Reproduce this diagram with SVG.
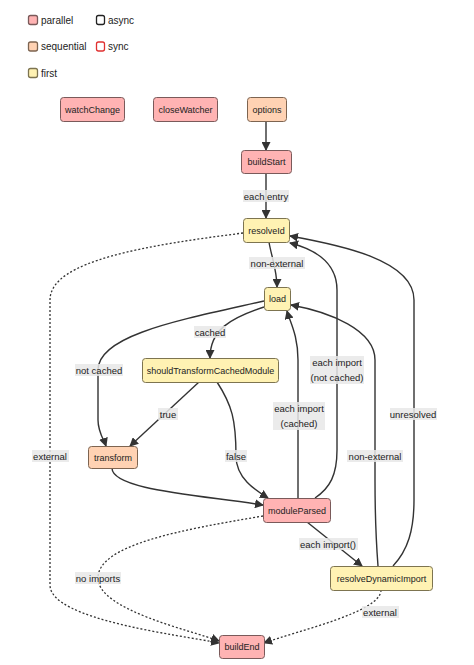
<svg xmlns="http://www.w3.org/2000/svg" width="474" height="665" viewBox="0 0 474 665">
<style>
text{font-family:"Liberation Sans",Arial,sans-serif;font-size:9px;fill:#222;}
.c{text-anchor:middle;dominant-baseline:central;}
.l{font-size:9.5px;}
.g{font-size:10px;dominant-baseline:central;}
.par{fill:#ffb3b3;stroke:#7a5a5a;stroke-width:1;}
.seq{fill:#ffd2b3;stroke:#7d6450;stroke-width:1;}
.fst{fill:#fff2b3;stroke:#7d7450;stroke-width:1;}
.e{fill:none;stroke:#333;stroke-width:1.4;}
.d{fill:none;stroke:#333;stroke-width:1.3;stroke-dasharray:2,2;}
.lb{fill:#e8e8e8;opacity:0.85;}
.lg{stroke-width:1.3;}
</style>
<defs>
<marker id="ah" markerWidth="9" markerHeight="9" refX="8" refY="4.5" orient="auto" markerUnits="userSpaceOnUse">
<path d="M0,0 L9,4.5 L0,9 z" fill="#333"/>
</marker>
</defs>
<g id="legend">
<rect x="28.5" y="15.5" width="9" height="9" rx="2" class="par lg"/><text class="g" x="41" y="20">parallel</text>
<rect x="96.5" y="15.5" width="8" height="9" rx="2" fill="#fff" stroke="#222" class="lg"/><text class="g" x="108" y="20">async</text>
<rect x="28.5" y="42" width="9" height="9" rx="2" class="seq lg"/><text class="g" x="41" y="46.5">sequential</text>
<rect x="96.5" y="42" width="8" height="9" rx="2" fill="#fff" stroke="#e03030" class="lg"/><text class="g" x="108" y="46.5">sync</text>
<rect x="28.5" y="68.5" width="9" height="9" rx="2" class="fst lg"/><text class="g" x="41" y="73">first</text>
</g>
<g id="connectors">
<path class="e" d="M266,121 L266,150" marker-end="url(#ah)"/>
<path class="e" d="M266,173 L266,218" marker-end="url(#ah)"/>
<path class="e" d="M269,242 C271,255 277,270 277,287" marker-end="url(#ah)"/>
<path class="e" d="M264,307 C230,318 210,330 210,358" marker-end="url(#ah)"/>
<path class="e" d="M264,301 C180,320 98,335 98,370 L98,420 C98,432 104,440 106,446" marker-end="url(#ah)"/>
<path class="e" d="M199,382 L130,446" marker-end="url(#ah)"/>
<path class="e" d="M217,382 C232,405 236,420 236,456 C236,478 255,490 268,498" marker-end="url(#ah)"/>
<path class="e" d="M112,468 C112,490 200,495 263,505" marker-end="url(#ah)"/>
<path class="e" d="M298,498 L298,360 C298,335 290,322 287,311" marker-end="url(#ah)"/>
<path class="e" d="M315,498 C330,488 337,475 337,450 L337,290 C337,260 310,248 290,243" marker-end="url(#ah)"/>
<path class="e" d="M378,566 C376,540 375,520 375,480 L375,360 C375,330 330,312 291,305" marker-end="url(#ah)"/>
<path class="e" d="M393,566 C408,550 414,530 414,500 L414,300 C414,260 340,245 290,236" marker-end="url(#ah)"/>
<path class="e" d="M307,522 L362,566" marker-end="url(#ah)"/>
<path class="d" d="M243,233 C150,245 50,260 50,300 L50,585 C50,620 180,635 219,643" marker-end="url(#ah)"/>
<path class="d" d="M263,516 C180,530 98,545 98,578 C98,610 190,630 219,641" marker-end="url(#ah)"/>
<path class="d" d="M381,590 C381,612 300,630 264,643" marker-end="url(#ah)"/>
<g id="edge-labels">
<rect class="lb" x="243" y="190" width="46" height="12"/><text class="c l" x="266" y="196">each entry</text>
<rect class="lb" x="249" y="257" width="56" height="12"/><text class="c l" x="277" y="263">non-external</text>
<rect class="lb" x="194" y="326" width="32" height="12"/><text class="c l" x="210" y="332">cached</text>
<rect class="lb" x="75" y="364" width="48" height="12"/><text class="c l" x="99" y="370">not cached</text>
<rect class="lb" x="158" y="408" width="20" height="12"/><text class="c l" x="168" y="414">true</text>
<rect class="lb" x="225" y="450" width="22" height="12"/><text class="c l" x="236" y="456">false</text>
<rect class="lb" x="32" y="450" width="37" height="12"/><text class="c l" x="50" y="456">external</text>
<rect class="lb" x="273" y="402" width="52" height="28"/><text class="c l" x="299" y="408">each import</text><text class="c l" x="299" y="423">(cached)</text>
<rect class="lb" x="310" y="356" width="54" height="28"/><text class="c l" x="337" y="362">each import</text><text class="c l" x="337" y="377">(not cached)</text>
<rect class="lb" x="390" y="408" width="47" height="12"/><text class="c l" x="413" y="414">unresolved</text>
<rect class="lb" x="347" y="450" width="56" height="12"/><text class="c l" x="375" y="456">non-external</text>
<rect class="lb" x="299" y="538" width="59" height="12"/><text class="c l" x="328" y="544">each import()</text>
<rect class="lb" x="75" y="572" width="46" height="12"/><text class="c l" x="98" y="578">no imports</text>
<rect class="lb" x="362" y="606" width="37" height="12"/><text class="c l" x="380" y="612">external</text>
</g>
</g>
<g id="watchChange"><rect class="par" x="60.5" y="97.5" width="64" height="24" rx="3"/><text class="c" x="92.5" y="109.5">watchChange</text></g>
<g id="closeWatcher"><rect class="par" x="153.5" y="97.5" width="64" height="24" rx="3"/><text class="c" x="185.5" y="109.5">closeWatcher</text></g>
<g id="options"><rect class="seq" x="247.5" y="97.5" width="39" height="24" rx="3"/><text class="c" x="267" y="109.5">options</text></g>
<g id="buildStart"><rect class="par" x="241.5" y="150.5" width="50" height="23" rx="3"/><text class="c" x="266.5" y="162">buildStart</text></g>
<g id="resolveId"><rect class="fst" x="243.5" y="218.5" width="46" height="24" rx="3"/><text class="c" x="266.5" y="230.5">resolveId</text></g>
<g id="load"><rect class="fst" x="264.5" y="287.5" width="26" height="23" rx="3"/><text class="c" x="277.5" y="299">load</text></g>
<g id="shouldTransformCachedModule"><rect class="fst" x="142.5" y="358.5" width="136" height="24" rx="3"/><text class="c" x="210.5" y="370.5">shouldTransformCachedModule</text></g>
<g id="transform"><rect class="seq" x="88.5" y="446.5" width="49" height="22" rx="3"/><text class="c" x="113" y="457.5">transform</text></g>
<g id="moduleParsed"><rect class="par" x="263.5" y="498.5" width="67" height="24" rx="3"/><text class="c" x="297" y="510.5">moduleParsed</text></g>
<g id="resolveDynamicImport"><rect class="fst" x="330.5" y="566.5" width="102" height="24" rx="3"/><text class="c" x="381.5" y="578.5">resolveDynamicImport</text></g>
<g id="buildEnd"><rect class="par" x="219.5" y="635.5" width="45" height="23" rx="3"/><text class="c" x="242" y="647">buildEnd</text></g>
</svg>
